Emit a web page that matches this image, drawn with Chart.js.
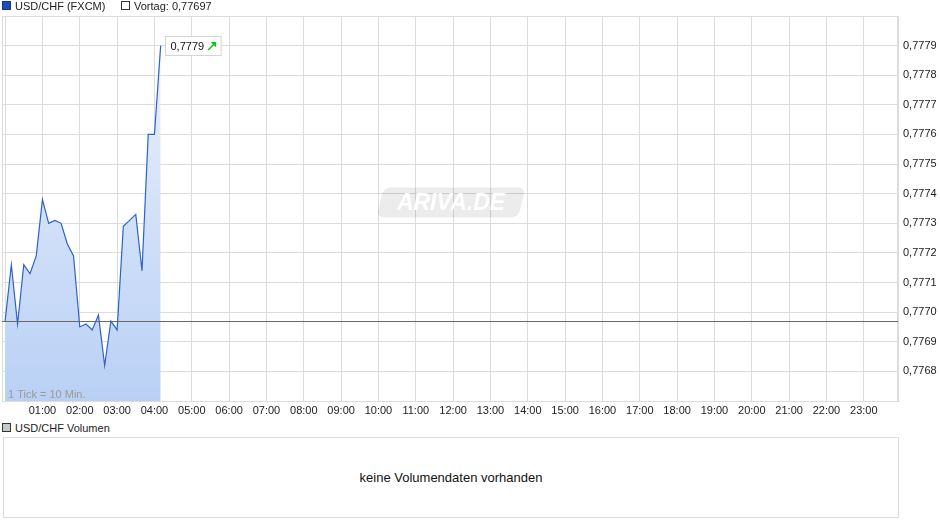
<!DOCTYPE html>
<html lang="de">
<head>
    <meta charset="UTF-8">
    <title>USD/CHF Intraday</title>
    <script src="https://cdn.jsdelivr.net/npm/chart.js"></script>
    <style>
        body {
            margin: 0;
            background: #fff;
            font-family: "Liberation Sans", Arial, sans-serif;
            color: #222;
        }
        .wrap {
            position: relative;
            width: 940px;
            height: 526px;
        }
        .chart-box {
            position: absolute;
            left: 0;
            top: 0;
            width: 940px;
            height: 420px;
        }
        .legend {
            position: absolute;
            font-size: 11px;
            line-height: 12px;
            white-space: nowrap;
        }
        .sq {
            display: inline-block;
            width: 7px;
            height: 7px;
            border: 1px solid #333;
            margin-right: 4px;
            vertical-align: 0px;
        }
        .vol-box {
            position: absolute;
            left: 3px;
            top: 437px;
            width: 894px;
            height: 79px;
            border: 1px solid #dcdcdc;
            text-align: center;
            line-height: 79px;
            font-size: 13px;
            color: #111;
        }
    </style>
</head>
<body>
<div class="wrap">
    <div class="chart-box"><canvas id="kurs"></canvas></div>
    <div class="legend" style="left:2px; top:0px;"><span class="sq" style="background:#1f4fae; border-color:#123a85;"></span><span id="lgMain"></span></div>
    <div class="legend" style="left:121px; top:0px;"><span class="sq" style="background:#fff;"></span><span id="lgPrev"></span></div>
    <div class="legend" style="left:2px; top:422px;"><span class="sq" style="background:#c8c8c8;"></span><span id="lgVol"></span></div>
    <div class="vol-box" id="volText"></div>
</div>

<script>
    // Daten (10-Minuten-Ticks)
    const seriesName = 'USD/CHF (FXCM)';
    const volumeName = 'USD/CHF Volumen';
    const noVolume = 'keine Volumendaten vorhanden';
    const tickNote = '1 Tick = 10 Min.';
    const prevClose = 0.77697;

    const times = ['00:00', '00:10', '00:20', '00:30', '00:40', '00:50',
                   '01:00', '01:10', '01:20', '01:30', '01:40', '01:50',
                   '02:00', '02:10', '02:20', '02:30', '02:40', '02:50',
                   '03:00', '03:10', '03:20', '03:30', '03:40', '03:50',
                   '04:00', '04:10'];
    const prices = [0.77697, 0.77716, 0.77696, 0.77716, 0.77713, 0.77719,
                    0.77738, 0.77730, 0.77731, 0.77730, 0.77723, 0.77719,
                    0.77695, 0.77696, 0.77694, 0.77699, 0.77682, 0.77697,
                    0.77694, 0.77729, 0.77731, 0.77733, 0.77714, 0.77760,
                    0.77760, 0.77790];

    const hourLabels = ['', '01:00', '02:00', '03:00', '04:00', '05:00', '06:00', '07:00',
                        '08:00', '09:00', '10:00', '11:00', '12:00', '13:00', '14:00',
                        '15:00', '16:00', '17:00', '18:00', '19:00', '20:00', '21:00',
                        '22:00', '23:00'];
    const priceTicks = [0.7768, 0.7769, 0.7770, 0.7771, 0.7772, 0.7773,
                        0.7774, 0.7775, 0.7776, 0.7777, 0.7778, 0.7779];

    const xMin = -5, xMax = 1435;
    const yMin = 0.7767, yMax = 0.7780;

    const fmt = (v, d) => v.toFixed(d).replace('.', ',');
    const toMin = t => parseInt(t.slice(0, 2)) * 60 + parseInt(t.slice(3));

    document.getElementById('lgMain').textContent = seriesName;
    document.getElementById('lgPrev').textContent = 'Vortag: ' + fmt(prevClose, 5);
    document.getElementById('lgVol').textContent = volumeName;
    document.getElementById('volText').textContent = noVolume;

    const FONT = '"Liberation Sans", Arial, sans-serif';
    const GRID = '#dcdcdc';

    // Rahmen, Wasserzeichen, Vortageslinie, Hinweis und Kursfähnchen
    const extras = {
        id: 'extras',
        beforeDatasetsDraw(chart) {
            const { ctx, chartArea: a } = chart;
            const cx = (a.left + a.right) / 2 + 1;
            const cy = (a.top + a.bottom) / 2 - 6;
            ctx.save();
            ctx.translate(cx, cy);
            ctx.transform(1, 0, -0.25, 1, 0, 0);
            const w = 142, h = 30, r = 7;
            ctx.beginPath();
            ctx.roundRect(-w / 2, -h / 2, w, h, r);
            ctx.fillStyle = 'rgba(0,0,0,0.075)';
            ctx.fill();
            ctx.restore();
            ctx.save();
            ctx.font = 'italic bold 23px ' + FONT;
            ctx.fillStyle = 'rgba(255,255,255,0.95)';
            ctx.textAlign = 'center';
            ctx.textBaseline = 'middle';
            ctx.fillText('ARIVA.DE', cx, cy + 1);
            ctx.restore();
        },
        afterDatasetsDraw(chart) {
            const { ctx, chartArea: a, scales } = chart;
            ctx.save();
            ctx.strokeStyle = GRID;
            ctx.lineWidth = 1;
            ctx.strokeRect(a.left + 0.5, a.top + 0.5, a.right - a.left - 1, a.bottom - a.top);

            // Vortageslinie
            const vy = Math.round(scales.y.getPixelForValue(prevClose)) + 0.5;
            ctx.strokeStyle = '#686868';
            ctx.beginPath();
            ctx.moveTo(a.left, vy);
            ctx.lineTo(a.right, vy);
            ctx.stroke();

            ctx.font = '11px ' + FONT;
            ctx.fillStyle = '#9a9a9a';
            ctx.textBaseline = 'alphabetic';
            ctx.fillText(tickNote, a.left + 6, a.bottom - 3);

            // Fähnchen am letzten Kurs
            const last = prices[prices.length - 1];
            const px = scales.x.getPixelForValue(toMin(times[times.length - 1]));
            const py = scales.y.getPixelForValue(last);
            const label = fmt(last, 4);
            ctx.font = '11px ' + FONT;
            const tw = ctx.measureText(label).width;
            const bx = Math.round(px) + 4.5, by = Math.round(py) - 9.5;
            const bw = tw + 22, bh = 19;
            ctx.fillStyle = '#fff';
            ctx.fillRect(bx, by, bw, bh);
            ctx.strokeStyle = '#d4d4d4';
            ctx.strokeRect(bx, by, bw, bh);
            ctx.fillStyle = '#111';
            ctx.textBaseline = 'middle';
            ctx.fillText(label, bx + 5, by + bh / 2 + 1);
            // grüner Pfeil
            const ax = bx + tw + 9, ay = by + bh / 2;
            ctx.strokeStyle = '#19c419';
            ctx.fillStyle = '#19c419';
            ctx.lineWidth = 1.5;
            ctx.beginPath();
            ctx.moveTo(ax, ay + 4);
            ctx.lineTo(ax + 6, ay - 2);
            ctx.stroke();
            ctx.beginPath();
            ctx.moveTo(ax + 8, ay - 4);
            ctx.lineTo(ax + 2.5, ay - 4);
            ctx.lineTo(ax + 8, ay + 1.5);
            ctx.closePath();
            ctx.fill();
            ctx.restore();
        }
    };

    const ctx = document.getElementById('kurs').getContext('2d');
    new Chart(ctx, {
        type: 'line',
        data: {
            datasets: [{
                label: seriesName,
                data: times.map((t, i) => ({ x: toMin(t), y: prices[i] })),
                borderColor: '#2d62c8',
                borderWidth: 1.2,
                pointRadius: 0,
                tension: 0,
                fill: 'start',
                backgroundColor: (c) => {
                    const a = c.chart.chartArea;
                    if (!a) return 'rgba(200,218,248,0.8)';
                    const g = c.chart.ctx.createLinearGradient(0, a.top, 0, a.bottom);
                    g.addColorStop(0, '#edf3fd');
                    g.addColorStop(1, '#b9d0f5');
                    return g;
                }
            }]
        },
        options: {
            responsive: true,
            maintainAspectRatio: false,
            animation: false,
            events: [],
            layout: { padding: { top: 16, left: 2, right: 0, bottom: 0 } },
            plugins: {
                legend: { display: false },
                tooltip: { enabled: false }
            },
            scales: {
                x: {
                    type: 'linear',
                    min: xMin,
                    max: xMax,
                    afterBuildTicks: s => { s.ticks = hourLabels.map((_, i) => ({ value: i * 60 })); },
                    afterFit: s => { s.height = 19; },
                    grid: { color: GRID, drawTicks: false },
                    border: { color: GRID },
                    ticks: {
                        autoSkip: false,
                        maxRotation: 0,
                        padding: 3,
                        color: '#222',
                        font: { family: FONT, size: 11 },
                        callback: (v, i) => hourLabels[i]
                    }
                },
                y: {
                    position: 'right',
                    min: yMin,
                    max: yMax,
                    afterBuildTicks: s => { s.ticks = priceTicks.map(v => ({ value: v })); },
                    afterFit: s => { s.width = 42; },
                    grid: { color: GRID, drawTicks: false },
                    border: { color: GRID },
                    ticks: {
                        padding: 5,
                        color: '#222',
                        font: { family: FONT, size: 11 },
                        callback: v => fmt(v, 4)
                    }
                }
            }
        },
        plugins: [extras]
    });
</script>
</body>
</html>
